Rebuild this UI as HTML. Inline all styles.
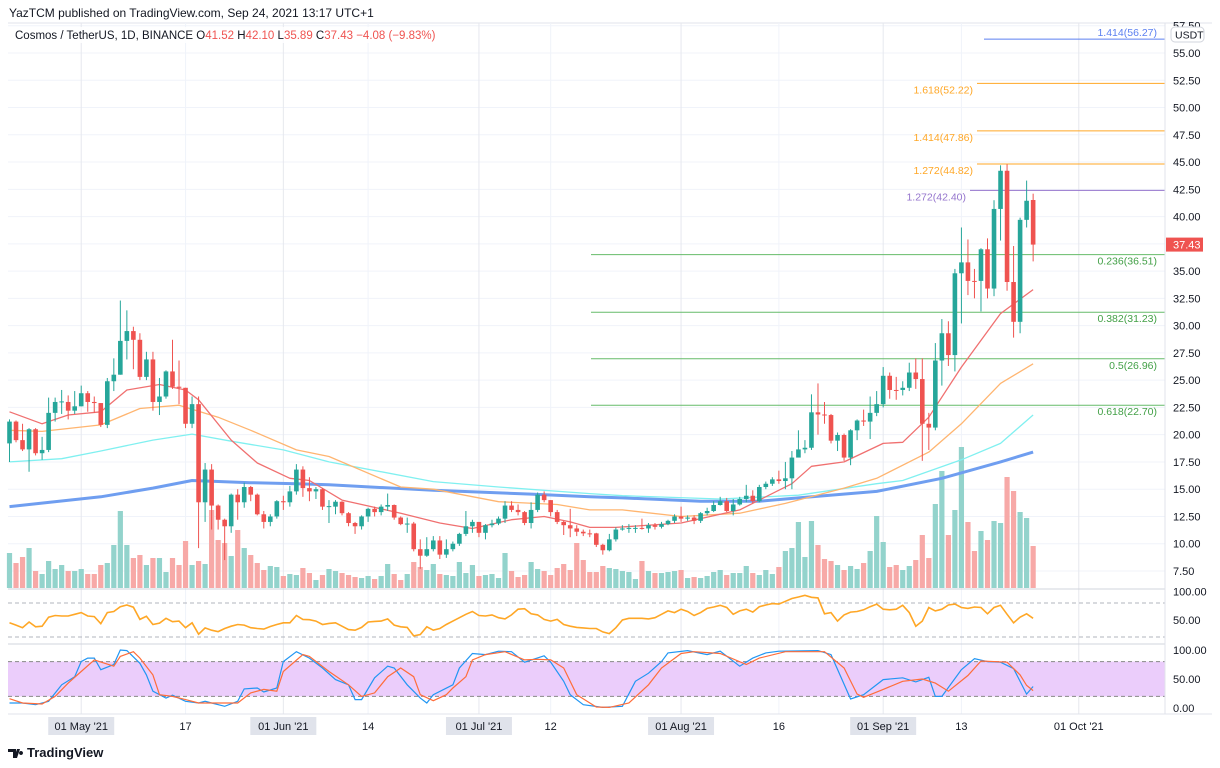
<!DOCTYPE html>
<html><head><meta charset="utf-8"><style>
body{margin:0;background:#fff;}
svg{display:block;font-family:"Liberation Sans",sans-serif;}
</style></head><body>
<svg id="c" width="1220" height="768" viewBox="0 0 1220 768" xmlns="http://www.w3.org/2000/svg">
<text x="9" y="17" font-size="12" fill="#131722">YazTCM published on TradingView.com, Sep 24, 2021 13:17 UTC+1</text>
<line x1="8" y1="23" x2="1212" y2="23" stroke="#e0e3eb"/>
<g id="grid"></g>
<rect x="12" y="27" width="380" height="16" fill="#fff" fill-opacity="0.85"/>
<text x="15" y="39" font-size="11.5" fill="#131722">Cosmos / TetherUS, 1D, BINANCE <tspan fill="#131722">O</tspan><tspan fill="#ef5350">41.52</tspan> <tspan fill="#131722">H</tspan><tspan fill="#ef5350">42.10</tspan> <tspan fill="#131722">L</tspan><tspan fill="#ef5350">35.89</tspan> <tspan fill="#131722">C</tspan><tspan fill="#ef5350">37.43 −4.08 (−9.83%)</tspan></text>
<g id="fib"></g>
<g id="vol"></g>
<g id="ma"></g>
<g id="candles"></g>
<g id="osc"></g>
<g id="axes"></g>
<g>
<path d="M8 749h8v9h-3v-6h-5z M17 749h3l-3 9h-3z M21 751a2 2 0 1 0 0.01 0z" fill="#131722"/>
<text x="27" y="757" font-size="13" font-weight="bold" fill="#131722">TradingView</text>
</g>
</svg>
<script>
// ---- data ----
const opens=[19.2,21.2,19.5,18.65,20.5,18.3,18.6,22.0,23.0,23.0,22.2,22.6,23.8,23.0,22.9,20.9,24.9,25.5,28.6,29.5,28.7,25.3,26.9,23.0,23.5,25.8,24.4,24.3,21.0,22.8,13.8,16.8,13.5,12.2,11.6,14.5,13.8,15.2,14.5,12.7,12.0,12.5,13.9,13.8,14.8,
16.8,15.1,14.8,15.0,13.4,13.4,13.85,12.8,11.9,11.6,12.5,13.2,12.9,13.4,13.55,12.4,11.8,11.85,9.5,8.9,9.5,10.3,9.0,9.5,10.0,10.9,11.6,12.0,11.0,11.7,11.85,12.3,13.5,13.1,12.9,11.9,13.1,14.5,14.0,12.9,12.0,11.7,11.4,11.1,
10.95,10.95,9.9,9.4,10.4,11.3,11.4,11.4,11.45,11.4,11.7,11.55,11.8,12.1,12.5,12.3,12.4,12.1,12.8,13.0,13.55,13.9,13.0,13.6,14.1,14.4,13.9,15.2,15.5,15.9,15.75,16.0,17.9,18.65,18.8,22.05,21.85,21.8,19.45,19.97,17.9,20.4,21.3,21.2,
22.0,22.8,25.4,24.1,24.1,24.3,25.7,25.1,21.0,20.65,26.8,29.3,27.3,34.8,35.8,34.1,34.1,37.0,33.4,40.7,44.2,34.0,30.35,39.7,41.52];
const closes=[21.2,19.5,18.65,20.5,18.3,18.6,22.0,23.0,23.05,22.2,22.6,23.8,23.0,22.9,20.9,24.9,25.5,28.6,29.5,28.7,25.3,26.9,23.0,23.5,25.8,24.4,24.3,21.0,22.8,13.8,16.8,13.5,12.2,11.6,14.5,13.8,15.2,14.5,12.7,12.0,12.5,13.9,13.8,14.8,16.8,
15.1,14.8,15.0,13.4,13.45,13.85,12.8,11.9,11.6,12.5,13.2,12.9,13.4,13.55,12.4,11.8,11.85,9.5,8.9,9.5,10.3,9.0,9.5,10.0,10.9,11.6,12.0,11.0,11.7,11.85,12.3,13.5,13.1,12.9,11.9,13.1,14.5,14.0,12.9,12.0,11.7,11.4,11.1,10.95,
10.9,9.9,9.4,10.4,11.3,11.4,11.45,11.45,11.4,11.7,11.55,11.8,12.1,12.5,12.3,12.4,12.1,12.8,13.0,13.55,13.9,13.0,13.6,14.1,14.4,13.9,15.2,15.5,15.9,15.75,16.0,17.9,18.65,18.8,22.05,21.85,21.8,19.45,19.97,17.9,20.4,21.3,21.2,22.0,
22.8,25.4,24.1,24.05,24.3,25.7,25.1,21.0,20.65,26.8,29.3,27.3,34.8,35.8,34.1,34.05,37.0,33.4,40.7,44.2,34.0,30.35,39.7,41.45,37.43];
const highs=[21.4,21.3,21.0,20.6,20.6,19.8,23.4,23.4,24.1,23.6,24.0,24.5,24.0,23.5,22.9,25.2,27.0,32.3,31.4,29.9,29.3,27.6,27.6,25.2,25.9,28.7,26.8,24.3,23.5,23.5,17.4,17.3,13.6,12.3,14.6,15.0,15.6,15.3,14.6,13.0,12.7,14.0,14.4,15.3,17.3,
17.1,16.1,15.2,15.1,14.0,14.0,13.9,12.9,12.0,12.6,13.3,13.4,13.6,14.6,13.6,12.5,12.4,12.0,10.4,10.6,10.7,10.7,10.4,10.2,11.0,13.0,12.2,12.0,11.8,12.2,12.5,13.9,13.9,13.6,13.0,13.8,14.7,14.8,14.0,13.1,12.1,13.2,11.7,11.3,
11.3,11.0,10.0,10.9,11.5,11.7,11.8,11.7,12.3,11.9,11.9,12.0,12.2,12.7,13.4,12.6,12.6,12.9,13.3,13.9,14.3,14.2,14.1,14.3,15.4,14.9,15.4,15.7,16.1,16.7,17.5,18.5,20.4,19.5,23.7,24.7,23.0,21.9,20.2,20.1,20.5,21.4,22.3,23.5,
24.0,26.2,25.7,25.3,24.9,26.6,27.0,27.0,22.0,28.4,30.6,30.4,35.2,39.0,37.9,35.2,37.1,38.0,41.5,44.7,44.8,37.3,39.9,43.3,42.10];
const lows=[17.5,19.3,18.5,16.6,18.1,17.7,18.4,21.2,21.9,21.4,21.9,22.6,22.1,22.0,20.7,20.6,24.0,25.5,26.9,26.0,25.0,25.0,22.2,21.8,23.3,24.2,22.8,20.6,20.6,9.6,12.0,11.3,11.3,8.5,11.0,12.2,13.3,13.9,12.6,11.4,11.6,12.3,13.1,13.4,14.5,
14.3,13.9,14.1,13.1,11.9,12.7,12.6,11.6,10.9,11.3,12.0,12.5,12.6,13.0,12.2,11.7,11.0,9.3,7.7,8.8,9.3,8.6,8.7,9.3,9.8,10.7,11.0,10.6,10.4,11.5,11.7,11.9,12.9,12.6,11.7,11.4,12.9,13.8,12.5,11.8,10.8,10.6,10.7,10.7,
10.6,9.7,9.0,9.3,10.2,11.2,11.0,11.0,11.3,11.0,11.3,11.4,11.7,11.9,12.0,12.1,11.8,11.9,12.6,12.9,13.5,12.9,12.6,13.5,13.8,13.7,13.8,15.0,15.3,15.5,15.0,15.0,18.0,18.3,18.6,20.0,21.0,19.2,18.5,17.6,17.2,19.5,20.8,19.6,
21.7,22.5,23.3,23.2,23.6,24.0,24.2,17.6,18.6,20.4,24.5,26.3,25.8,30.2,32.8,32.5,31.3,32.5,32.7,37.8,33.2,28.9,29.3,39.0,35.89];
const volumes=[35,25,31,40,17,14,27,19,23,17,17,19,14,14,23,25,43,77,43,30,33,23,30,30,16,30,23,47,23,27,24,78,48,45,32,58,40,33,25,18,22,21,12,14,13,
20,15,8,13,19,17,15,13,11,10,12,9,12,24,14,8,14,26,21,18,24,14,13,12,26,15,23,12,13,14,10,35,17,11,13,26,19,17,13,20,24,18,45,28,
16,16,22,20,19,17,16,9,27,17,15,15,16,17,18,10,11,10,12,16,18,13,15,15,22,15,13,18,14,21,37,40,66,31,67,43,29,27,23,18,22,19,25,37,
72,46,21,23,18,22,28,53,30,84,117,53,78,141,66,37,57,48,67,65,111,97,76,70,42];
const ma20Idx=[0,5,9,14,18,23,27,29,34,38,43,46,51,60,66,71,77,82,86,89,93,103,112,120,123,128,134,137,141,146,152,157];
const ma20Val=[22.1,21.0,21.8,22.1,24.1,24.6,24.1,23.2,19.5,17.4,16.0,15.8,14.0,12.8,11.9,11.4,12.2,12.5,12.0,11.5,11.5,11.9,13.1,15.5,17.1,17.5,19.2,19.3,21.6,26.2,31.1,33.3];
const ma50Idx=[0,5,14,20,26,32,37,44,49,60,65,75,84,89,94,103,112,119,128,133,141,146,152,157];
const ma50Val=[20.4,20.3,20.9,22.4,22.7,21.6,20.4,18.6,18.0,15.2,15.0,13.85,13.6,13.1,13.1,12.5,12.8,13.7,15.1,16.0,18.4,21.0,24.7,26.5];
const ma100Idx=[0,8,14,22,28,34,42,49,65,75,89,94,109,121,133,137,146,152,157];
const ma100Val=[17.5,17.8,18.5,19.5,20.05,19.4,18.6,17.5,15.7,15.2,14.6,14.4,14.1,14.45,15.5,15.8,17.7,19.2,21.8];
const ma200Idx=[0,14,22,28,37,44,49,65,80,89,94,106,115,121,133,143,152,157];
const ma200Val=[13.4,14.3,15.1,15.8,15.6,15.5,15.4,14.9,14.55,14.3,14.2,13.9,13.9,14.2,14.8,16.0,17.5,18.4];
const rsi=[45,41,36.5,46.5,38,39,55,58,57,57,60,63,57,56,43.5,63,65,73.5,76.5,72.5,51,56.5,42,44.5,53,47,48,36.5,45,25,36,32,29.5,35,39,42,41,36.5,35,34,38.5,42,45,45,58,51,50.5,48,42,44,45,39,33,32,37,46.5,47.5,48,52,41,38,37,22,24.5,38,32,35,42,48,54,60,65,58,57,59,54,52,59,69,70,61,59,51,48,51,
42,39,37,36,35,35,29,26,36.5,50,53,53,53,52,54,60,66,63,69,65,58,63,70.5,73,76,72,60,66,69,64,73.5,76.5,79,78,83,88,90.5,93.5,90,89,61,63,48,59,64,65,68,73.5,78,69,68,69,76,63,39,48,72,66,69,76.5,78,72,70.5,73,72,61,72,76,60,45,55,61,53];
const kIdx=[0,2,4,6,8,10,11,12,13,14,16,17,18,20,21,22,24,25,27,29,30,31,33,35,36,38,39,41,42,44,46,48,50,52,53,54,56,58,59,61,63,64,65,68,69,71,73,75,77,79,82,83,85,86,88,91,94,96,98,100,101,104,107,109,112,114,116,118,124,126,129,131,134,137,139,141,142,143,146,148,150,152,154,156,157];
const kVal=[8.6,8.6,5.7,11.5,40,54,80,86,86,66,75,100,99,77,57,29,17,22,11.5,8.6,11.5,8.6,2.9,11.5,33,34.5,27.6,34.5,80,97,86,69,49,40,14.4,14.4,52,72,69,40,17,8.6,23,40,69,94,92,98,97,79,90,79,46,23,5.7,1,2.9,46,60,80,95,99,92,98,72,86,95,98,99,92,15.5,23,49,52,45,53,20,20,66,85,80,79,68,24,37];
const dIdx=[0,2,5,7,9,11,13,16,17,19,20,22,23,25,27,29,33,35,37,39,41,42,45,46,49,52,54,56,58,60,62,63,65,67,68,70,71,73,76,79,81,83,85,87,90,92,95,98,100,103,105,109,113,115,119,125,128,130,131,134,137,140,142,144,147,149,153,155,156,157];
const dVal=[16,8.6,6.9,20,43,63,83,72,89,97,86,57,23,20,14.4,8.6,8.6,8.6,26,32,29,63,92,89,63,40,20,26,54,69,54,23,12.6,23,34.5,54,83,92,97,83,84,83,69,23,1.7,1,8.6,40,69,94,97,94,75,86,97,97,69,24,18.4,32,46,50,43,29,56,81,79,57,39,30];
const priceTicks=[57.5,55,52.5,50,47.5,45,42.5,40,37.5,35,32.5,30,27.5,25,22.5,20,17.5,15,12.5,10,7.5];
const fibLevels=[56.27,52.22,47.86,44.82,42.40,36.51,31.23,26.96,22.70];
const fibLabels=['1.414(56.27)','1.618(52.22)','1.414(47.86)','1.272(44.82)','1.272(42.40)','0.236(36.51)','0.382(31.23)','0.5(26.96)','0.618(22.70)'];
const timeLabels=["01 May '21","17","01 Jun '21","14","01 Jul '21","12","01 Aug '21","16","01 Sep '21","13","01 Oct '21"];
const timeDayIdx=[11,27,42,55,72,83,103,118,134,146,164];
// ---- scales ----
const NS='http://www.w3.org/2000/svg';
const xOf=i=>9.5+i*6.52;
const yP=p=>53+(55-p)*10.905;
const yVol=v=>588-v;
const yR=v=>620-(v-50)*0.567;
const yS=v=>708-v*0.58;
function mk(tag,attrs,parent,txt){const e=document.createElementNS(NS,tag);for(const k in attrs)e.setAttribute(k,attrs[k]);if(txt!==undefined)e.textContent=txt;parent.appendChild(e);return e;}
const G=id=>document.getElementById(id);
// grid
const grid=G('grid');
priceTicks.forEach(p=>{const l=mk('line',{x1:8,x2:1165,y1:yP(p),y2:yP(p),stroke:'#f0f3fa'},grid);

});
timeDayIdx.forEach((d,k)=>{const l=mk('line',{x1:xOf(d),x2:xOf(d),y1:23,y2:714,stroke:timeLabels[k].length>2?'#e6e8ee':'#f0f3fa'},grid);

});
// fib
const fib=G('fib');
const fibColor=['#5b7ff0','#ffa726','#ffa726','#ffa726','#9575cd','#66bb6a','#66bb6a','#66bb6a','#66bb6a'];
const fibX=[984,977,977,977,970,591,591,591,591];
fibLevels.forEach((p,k)=>{const y=yP(p);
const l=mk('line',{x1:fibX[k],x2:1165,y1:y,y2:y,stroke:fibColor[k],'stroke-width':1},fib);


let tx,ty;
if(k===0){tx=1157;ty=y-3;}
else if(k<=4){tx=fibX[k]-4;ty=y+10;}
else{tx=1157;ty=y+10;}
const t=mk('text',{x:tx,y:ty,'text-anchor':'end','font-size':10.5,fill:k>=5?'#43a047':fibColor[k]},fib,fibLabels[k]);

});
// volume
const vol=G('vol');
volumes.forEach((v,i)=>{const up=closes[i]>=opens[i];
const r=mk('rect',{x:xOf(i)-2.6,y:yVol(v),width:5.2,height:v,fill:up?'#93d3cc':'#f7a9a7'},vol);

});
// MAs
const maG=G('ma');
function maLine(idx,val,color,w,name){const pts=idx.map((d,k)=>xOf(d).toFixed(1)+','+yP(val[k]).toFixed(1)).join(' ');
const pl=mk('polyline',{points:pts,fill:'none',stroke:color,'stroke-width':w,'stroke-linejoin':'round'},maG);

}
maLine(ma200Idx,ma200Val,'#6f9ef0',3,'ma200-line');
maLine(ma100Idx,ma100Val,'#80f0f0',1.3,'ma100-line');
maLine(ma50Idx,ma50Val,'#ffb570',1.3,'ma50-line');
maLine(ma20Idx,ma20Val,'#f07070',1.3,'ma20-line');
// candles
const cg=G('candles');
closes.forEach((c,i)=>{const o=opens[i],up=c>=o,col=up?'#26a69a':'#ef5350',x=xOf(i);
const w=mk('line',{x1:x,x2:x,y1:yP(highs[i]),y2:yP(lows[i]),stroke:col,'stroke-width':1},cg);


const top=yP(Math.max(o,c)),bot=yP(Math.min(o,c));
const b=mk('rect',{x:x-2.3,y:top,width:4.6,height:Math.max(1,bot-top),fill:col},cg);

});
// oscillators
const os=G('osc');
[[8,589,1165,589],[8,644,1165,644]].forEach(a=>{const l=mk('line',{x1:a[0],y1:a[1],x2:a[2],y2:a[3],stroke:'#d1d4dc'},os);

});
[80,20].forEach(v=>{const l=mk('line',{x1:8,x2:1165,y1:yR(v),y2:yR(v),stroke:'#b2b5be','stroke-dasharray':'4 3'},os);

});
const band=mk('rect',{x:8,y:yS(80),width:1157,height:yS(20)-yS(80),fill:'#ebcdfb'},os);


[80,20].forEach(v=>{const l=mk('line',{x1:8,x2:1165,y1:yS(v),y2:yS(v),stroke:'#888','stroke-dasharray':'4 3'},os);

});
const rl=mk('polyline',{points:rsi.map((v,i)=>xOf(i).toFixed(1)+','+yR(v).toFixed(1)).join(' '),fill:'none',stroke:'#ffa726','stroke-width':1.6},os);


const kl=mk('polyline',{points:kIdx.map((d,k)=>xOf(d).toFixed(1)+','+yS(kVal[k]).toFixed(1)).join(' '),fill:'none',stroke:'#2196f3','stroke-width':1.2},os);


const dl=mk('polyline',{points:dIdx.map((d,k)=>xOf(d).toFixed(1)+','+yS(dVal[k]).toFixed(1)).join(' '),fill:'none',stroke:'#ff6d3a','stroke-width':1.2},os);


// axes
const ax=G('axes');
const ra=mk('line',{x1:1165,x2:1165,y1:23,y2:714,stroke:'#e0e3eb'},ax);


const ba=mk('line',{x1:8,x2:1212,y1:714,y2:714,stroke:'#e0e3eb'},ax);


priceTicks.forEach(p=>{const t=mk('text',{x:1173,y:yP(p)+4,'font-size':11,fill:'#131722'},ax,p.toFixed(2));

});
const cover=mk('rect',{x:1166,y:0,width:54,height:20,fill:'#fff'},ax);


const ub=mk('rect',{x:1171,y:27,width:33,height:15,rx:4,fill:'#fff',stroke:'#d1d4dc'},ax);


const ut=mk('text',{x:1175,y:38.5,'font-size':10.5,fill:'#131722'},ax,'USDT');


const last=closes[closes.length-1];
const pb=mk('rect',{x:1166,y:yP(last)-7,width:37,height:14,fill:'#ef5350'},ax);


const pt=mk('text',{x:1173,y:yP(last)+4,'font-size':11,fill:'#fff'},ax,last.toFixed(2));


[[100,yR],[50,yR],[100,yS],[50,yS],[0,yS]].forEach(a=>{const t=mk('text',{x:1173,y:a[1](a[0])+4,'font-size':11,fill:'#131722'},ax,a[0].toFixed(2));

});
timeLabels.forEach((s,k)=>{const x=xOf(timeDayIdx[k]);
if(s.length>2&&k<10){const r=mk('rect',{x:x-33,y:717,width:66,height:18,fill:'#e0e3eb'},ax);

}
const t=mk('text',{x:x,y:730,'text-anchor':'middle','font-size':11,fill:'#131722'},ax,s);

});
</script>
</body></html>
